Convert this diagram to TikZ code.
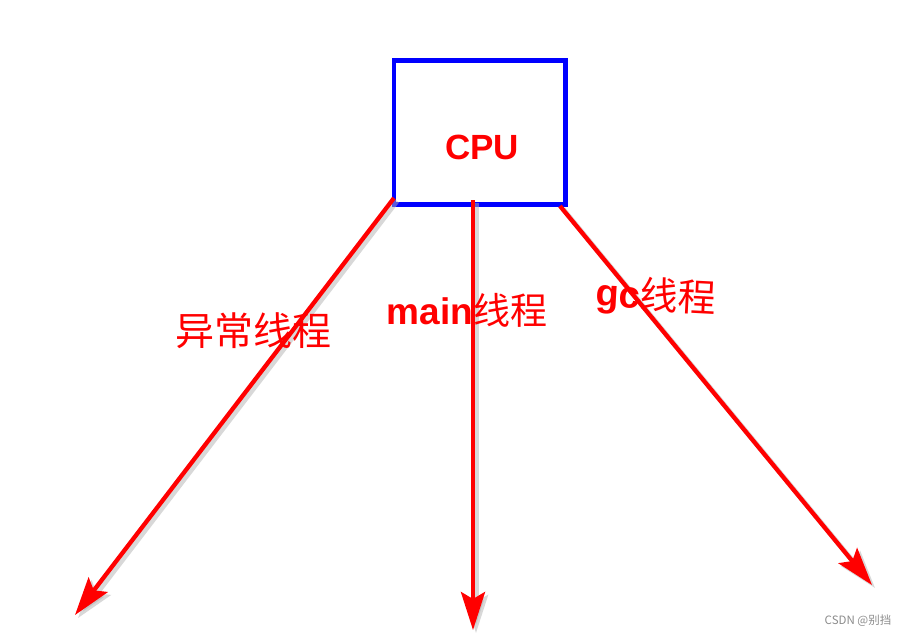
\documentclass[tikz,border=0pt]{standalone}
\usepackage{fontspec}
\setmainfont{Liberation Sans}
\newfontfamily\zh{Noto Sans CJK SC}
\usetikzlibrary{arrows.meta}

\tikzset{
  thread/.style={red, line width=4.3pt, -{Stealth[length=38pt,width=24pt,inset=7pt]},
    preaction={draw=black!30, opacity=0.5, line width=5pt, transform canvas={shift={(3pt,-3pt)}}}},
  tname/.style={text=red, inner sep=0pt}
}

\begin{document}
\begin{tikzpicture}[x=1pt,y=-1pt]
\useasboundingbox[fill=white] (0,0) rectangle (907,638);
\node[draw=blue, line width=4.5pt, minimum width=171.5pt, minimum height=144pt, inner sep=0pt] (cpu) at (479.75,132.5) {};
\node[text=red, font=\bfseries\fontsize{35}{35}\selectfont] (cpuname) at (482,147) {CPU};
\coordinate (A) at (394,198);
\coordinate (B) at (473,200);
\coordinate (C) at (560,206);
\coordinate (A1) at (75,615);
\coordinate (B1) at (473,630);
\coordinate (C1) at (872,585);
\draw[thread] (A)--(A1);
\draw[thread] (B)--(B1);
\draw[thread] (C)--(C1);
\node[tname, font=\zh\fontsize{39}{39}\selectfont] (err) at (253,331) {异常线程};
\node[tname, font=\bfseries\fontsize{37}{37}\selectfont] (main) at (467,310) {main{\zh\mdseries 线程}};
\node[tname, font=\bfseries\fontsize{38}{38}\selectfont, rotate=-3] (gc) at (656,297) {gc{\zh\mdseries 线程}};
\node[text=black!45, font=\zh\fontsize{11.5}{11.5}\selectfont] (mark) at (858,621) {CSDN @别挡};
\end{tikzpicture}
\end{document}
